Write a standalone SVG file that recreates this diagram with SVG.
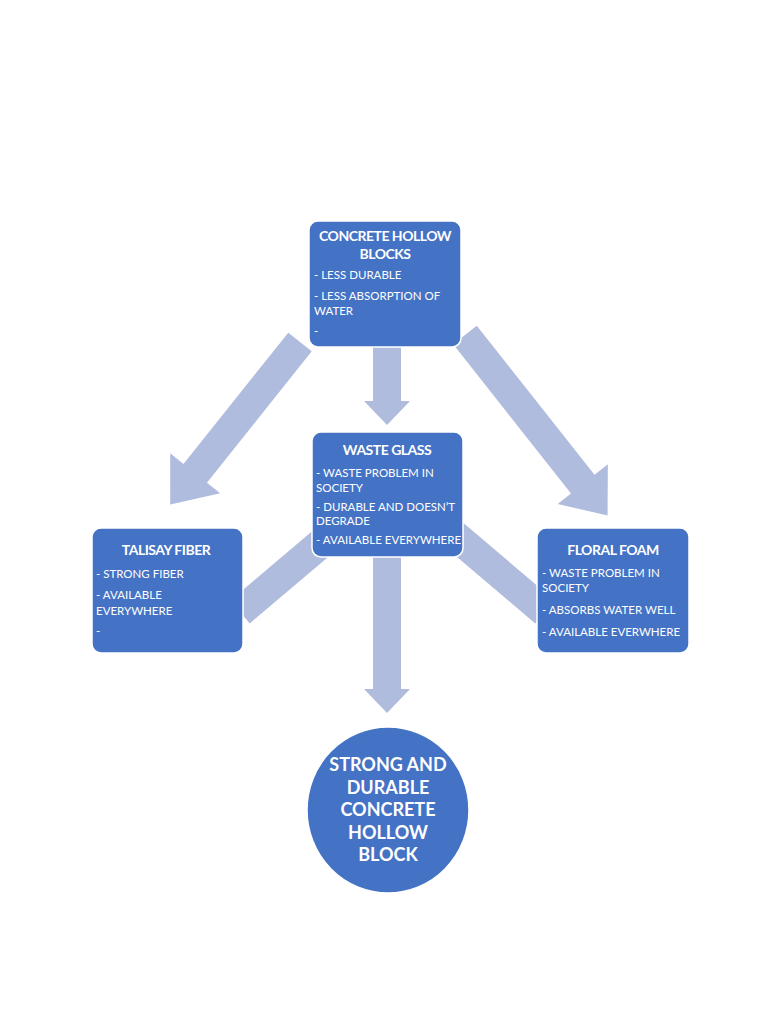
<svg xmlns="http://www.w3.org/2000/svg" width="768" height="1024" viewBox="0 0 768 1024">
<style>
.box{fill:#4472C4;stroke:#fff;stroke-width:1.5}
.t{font-family:Lato,"Liberation Sans",sans-serif;fill:#fff;font-size:14px;font-weight:bold;text-anchor:middle;letter-spacing:-0.5px}
.i{font-family:Lato,"Liberation Sans",sans-serif;fill:#fff;font-size:11.5px}
.c{font-family:Lato,"Liberation Sans",sans-serif;fill:#fff;font-size:18px;font-weight:bold;text-anchor:middle}
.ar{fill:#B0BCDE}
.band{stroke:#B0BCDE;stroke-width:30}
</style>
<rect width="768" height="1024" fill="#fff"/>
<g id="connectors">
<line class="band" x1="325" y1="540" x2="240" y2="612"/>
<line class="band" x1="452" y1="533" x2="545" y2="612"/>
<polygon class="ar" transform="translate(300,342) rotate(128.6)" points="0,-15 168,-15 168,-32 208,0 168,32 168,15 0,15"/>
<polygon class="ar" transform="translate(465,335) rotate(51.7)" points="0,-15 190,-15 190,-32 230,0 190,32 190,15 0,15"/>
<polygon class="ar" transform="translate(387,346) rotate(90)" points="0,-14 55,-14 55,-23 79,0 55,23 55,14 0,14"/>
<polygon class="ar" transform="translate(387,556) rotate(90)" points="0,-14 133,-14 133,-23 157,0 133,23 133,14 0,14"/>
</g>
<g id="concrete">
<rect class="box" x="309" y="221" width="152" height="126" rx="9"/>
<text class="t" x="385" y="241">CONCRETE HOLLOW</text>
<text class="t" x="385" y="259">BLOCKS</text>
<text class="i" x="314" y="279">- LESS DURABLE</text>
<text class="i" x="314" y="300">- LESS ABSORPTION OF</text>
<text class="i" x="314" y="315">WATER</text>
<text class="i" x="314" y="335">-</text>
</g>
<g id="glass">
<rect class="box" x="312" y="432" width="151" height="125" rx="9"/>
<text class="t" x="387" y="455">WASTE GLASS</text>
<text class="i" x="316" y="477">- WASTE PROBLEM IN</text>
<text class="i" x="316" y="492">SOCIETY</text>
<text class="i" x="316" y="511">- DURABLE AND DOESN’T</text>
<text class="i" x="316" y="525">DEGRADE</text>
<text class="i" x="316" y="544">- AVAILABLE EVERYWHERE</text>
</g>
<g id="talisay">
<rect class="box" x="92" y="528" width="151" height="125" rx="9"/>
<text class="t" x="166" y="555">TALISAY FIBER</text>
<text class="i" x="96" y="578">- STRONG FIBER</text>
<text class="i" x="96" y="599">- AVAILABLE</text>
<text class="i" x="96" y="615">EVERYWHERE</text>
<text class="i" x="96" y="635">-</text>
</g>
<g id="foam">
<rect class="box" x="537" y="528" width="152" height="125" rx="9"/>
<text class="t" x="613" y="555">FLORAL FOAM</text>
<text class="i" x="542" y="577">- WASTE PROBLEM IN</text>
<text class="i" x="542" y="592">SOCIETY</text>
<text class="i" x="542" y="614">- ABSORBS WATER WELL</text>
<text class="i" x="542" y="636">- AVAILABLE EVERWHERE</text>
</g>
<g id="result">
<ellipse class="box" cx="388" cy="810" rx="81" ry="83"/>
<text class="c" x="388" y="771">STRONG AND</text>
<text class="c" x="388" y="794">DURABLE</text>
<text class="c" x="388" y="816">CONCRETE</text>
<text class="c" x="388" y="839">HOLLOW</text>
<text class="c" x="388" y="861">BLOCK</text>
</g>
</svg>
